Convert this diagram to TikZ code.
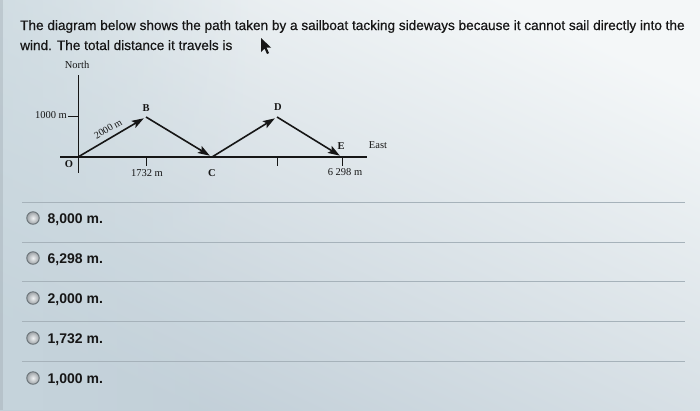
\documentclass[tikz,border=0pt]{standalone}
\usepackage{fontspec}
\setmainfont{Liberation Sans}
\newfontfamily\qfont[FakeBold=0.5]{Liberation Sans}
\newfontfamily\serifdiag{Liberation Serif}
\usetikzlibrary{arrows.meta,fadings}
\definecolor{ink}{HTML}{161616}
\definecolor{bgtop}{HTML}{F4F7F8}
\definecolor{bgmid}{HTML}{E0E8EC}
\definecolor{bgbot}{HTML}{C2CFD8}
\definecolor{bgleft}{HTML}{C8D7DE}
\definecolor{divider}{HTML}{A6B2BA}
\definecolor{radiofill}{HTML}{C4CBD0}
\definecolor{radioedge}{HTML}{687176}
\tikzset{
  question/.style={anchor=base west, inner sep=0pt, text=ink, font=\qfont\fontsize{13.6}{16}\selectfont},
  optiontext/.style={anchor=base west, inner sep=0pt, text=ink, font=\bfseries\fontsize{14}{16}\selectfont},
  radio/.style={circle, minimum size=12.5pt, inner sep=0pt, draw=radioedge, line width=0.9pt, inner color=white!75!radiofill, outer color=radiofill!80!black},
  divline/.style={draw=divider, line width=0.9pt},
  diaglabel/.style={inner sep=0pt, text=ink, font=\serifdiag\fontsize{10.5}{12}\selectfont},
  ptlabel/.style={inner sep=0pt, text=ink, font=\serifdiag\bfseries\fontsize{10.5}{12}\selectfont},
  axis/.style={draw=ink, line width=1.4pt},
  vaxis/.style={draw=ink, line width=0.9pt},
  tickline/.style={draw=ink, line width=0.7pt},
  leg/.style={draw=ink, line width=1.6pt, shorten >=2.5pt, -{Stealth[length=12pt,width=8pt,inset=2.5pt]}},
}
\begin{document}
\begin{tikzpicture}[x=1pt,y=-1pt]
\useasboundingbox (0,0) rectangle (700,410);
% background
\shade[top color=bgtop, middle color=bgmid, bottom color=bgbot, shading angle=-25] (0,0) rectangle (700,410);
\fill[bgleft, path fading=east, fill opacity=0.6] (0,0) rectangle (260,410);
\fill[bgbot!80!black, opacity=0.35] (0,0) rectangle (3,410);

% question text
\node[question] (q1) at (20,30) {The diagram below shows the path taken by a sailboat tacking sideways because it cannot sail directly into the};
\node[question] (q2) at (20,50) {wind. The total distance it travels is};

% mouse cursor
\fill[ink] (261,38) -- (261,52) -- (264.5,48.5) -- (267,54) -- (269,53) -- (266.5,47.5) -- (271,47.5) -- cycle;

% diagram axes
\coordinate (O) at (78,157);
\coordinate (B) at (146,117);
\coordinate (C) at (212,157);
\coordinate (D) at (277,117);
\coordinate (E) at (342,157);
\coordinate (axL) at (60,157);
\coordinate (axR) at (367,157);
\coordinate (vaT) at (78,75);
\coordinate (vaB) at (78,173);
\path[axis] (axL) -- (axR);
\path[vaxis] (vaT) -- (vaB);

% ticks
\coordinate (t1a) at (68,116);
\coordinate (t1b) at (78,116);
\path[tickline] (t1a) -- (t1b);
\coordinate (tBa) at (146,157);
\coordinate (tB) at (146,166);
\coordinate (tDa) at (277,157);
\coordinate (tD) at (277,166);
\coordinate (tE) at (342,166);
\path[tickline] (tBa) -- (tB);
\path[tickline] (tDa) -- (tD);
\path[tickline] (E) -- (tE);

% path legs
\path[leg] (O) -- (B);
\path[leg] (B) -- (C);
\path[leg] (C) -- (D);
\path[leg] (D) -- (E);

% labels
\node[diaglabel] (north) at (77,65) {North};
\node[diaglabel, anchor=east] (m1000) at (67,115) {1000 m};
\node[diaglabel] (m1732) at (147,173) {1732 m};
\node[diaglabel] (m6298) at (345,172) {6 298 m};
\node[diaglabel] (east) at (378,145) {East};
\node[diaglabel, rotate=30.5, font=\serifdiag\fontsize{10}{11}\selectfont] (m2000) at (108,129) {2000 m};
\node[ptlabel] (lO) at (69,164) {O};
\node[ptlabel] (lB) at (146,108) {B};
\node[ptlabel] (lC) at (212,173) {C};
\node[ptlabel] (lD) at (278,107) {D};
\node[ptlabel] (lE) at (341,146) {E};

% dividers
\path[divline] (22,202) -- (685,202);
\path[divline] (22,242) -- (685,242);
\path[divline] (22,281) -- (685,281);
\path[divline] (22,321) -- (685,321);
\path[divline] (22,361) -- (685,361);

% options
\node[radio] (r1) at (33,218) {};
\node[radio] (r2) at (33,258) {};
\node[radio] (r3) at (33,298) {};
\node[radio] (r4) at (33,338) {};
\node[radio] (r5) at (33,378) {};
\node[optiontext] (o1) at (47.5,223) {8,000 m.};
\node[optiontext] (o2) at (47.5,263) {6,298 m.};
\node[optiontext] (o3) at (47.5,303) {2,000 m.};
\node[optiontext] (o4) at (47.5,343) {1,732 m.};
\node[optiontext] (o5) at (47.5,383) {1,000 m.};
\end{tikzpicture}
\end{document}
